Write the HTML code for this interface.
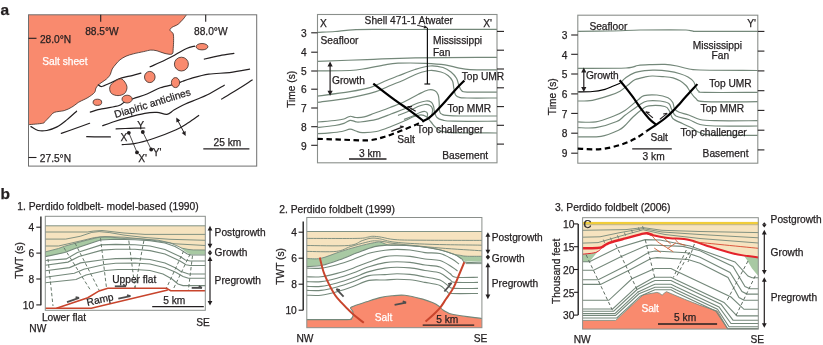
<!DOCTYPE html>
<html><head><meta charset="utf-8"><title>Perdido foldbelt figure</title>
<style>
html,body{margin:0;padding:0;background:#fff;}
svg{display:block;}
text{font-family:"Liberation Sans",Arial,Helvetica,sans-serif;font-size:10.2px;fill:#231f20;stroke:#231f20;stroke-width:0.25px;}
</style></head><body>
<svg width="823" height="345" viewBox="0 0 823 345">
<rect width="823" height="345" fill="#fff"/>
<text x="0.6" y="14.7" style="font-weight:bold;font-size:15.5px">a</text>
<path d="M186.5,14.8 C185.9,15.5 184.6,17.5 183.2,19.1 C181.8,20.7 180,22.8 178.2,24.2 C176.3,25.6 173.5,26.3 172.1,27.3 C170.7,28.3 169.8,29.2 170,30.3 C170.2,31.4 172.5,31.9 173.1,33.6 C173.7,35.3 173.6,38 173.6,40.5 C173.6,43 173.4,46.4 173.2,48.6 C172.9,50.9 173.5,53.2 172.1,54 C170.7,54.8 167.5,54 165,53.5 C162.5,53 159.4,51.4 157,50.8 C154.6,50.2 153,50 150.8,50.1 C148.6,50.2 146.6,51 143.7,51.6 C140.8,52.2 136.4,53 133.5,53.8 C130.6,54.6 128.2,55.2 126,56.2 C123.8,57.2 121.7,58.5 120,59.8 C118.3,61.1 117.3,62.5 116,64 C114.7,65.5 113.2,67.2 112.2,69 C111.2,70.8 111.2,72.8 110.3,74.5 C109.3,76.2 108.3,77.4 106.5,79 C104.7,80.6 101.2,82.5 99.5,84 C97.8,85.5 96.8,86.6 96,88 C95.2,89.4 95.8,90.9 94.5,92.5 C93.2,94.1 90.4,96 88,97.5 C85.6,99 81.8,100.5 80,101.5 C78.2,102.5 78.7,102.2 77.3,103.2 C75.9,104.2 73.7,106.1 71.5,107.3 C69.3,108.5 67.1,109.8 64.2,110.6 C61.3,111.4 56.7,111.4 54.3,112.4 C51.9,113.4 51.2,115.2 49.7,116.7 C48.2,118.2 46.2,120.4 45,121.5 C43.8,122.6 45.2,122.8 42.5,123.3 C39.8,123.8 30.8,124.5 28.5,124.7 L28.5,14.8 Z" fill="#f98a6e" stroke="none" stroke-width="1"/>
<path d="M186.5,14.8 C185.9,15.5 184.6,17.5 183.2,19.1 C181.8,20.7 180,22.8 178.2,24.2 C176.3,25.6 173.5,26.3 172.1,27.3 C170.7,28.3 169.8,29.2 170,30.3 C170.2,31.4 172.5,31.9 173.1,33.6 C173.7,35.3 173.6,38 173.6,40.5 C173.6,43 173.4,46.4 173.2,48.6 C172.9,50.9 173.5,53.2 172.1,54 C170.7,54.8 167.5,54 165,53.5 C162.5,53 159.4,51.4 157,50.8 C154.6,50.2 153,50 150.8,50.1 C148.6,50.2 146.6,51 143.7,51.6 C140.8,52.2 136.4,53 133.5,53.8 C130.6,54.6 128.2,55.2 126,56.2 C123.8,57.2 121.7,58.5 120,59.8 C118.3,61.1 117.3,62.5 116,64 C114.7,65.5 113.2,67.2 112.2,69 C111.2,70.8 111.2,72.8 110.3,74.5 C109.3,76.2 108.3,77.4 106.5,79 C104.7,80.6 101.2,82.5 99.5,84 C97.8,85.5 96.8,86.6 96,88 C95.2,89.4 95.8,90.9 94.5,92.5 C93.2,94.1 90.4,96 88,97.5 C85.6,99 81.8,100.5 80,101.5 C78.2,102.5 78.7,102.2 77.3,103.2 C75.9,104.2 73.7,106.1 71.5,107.3 C69.3,108.5 67.1,109.8 64.2,110.6 C61.3,111.4 56.7,111.4 54.3,112.4 C51.9,113.4 51.2,115.2 49.7,116.7 C48.2,118.2 46.2,120.4 45,121.5 C43.8,122.6 45.2,122.8 42.5,123.3 C39.8,123.8 30.8,124.5 28.5,124.7" fill="none" stroke="#3a2a25" stroke-width="0.8"/>
<path d="M30.9,126.6 C32.1,127.2 35.5,129.8 38.1,130.5 C40.8,131.2 43.6,131.1 46.8,130.5 C49.9,129.9 53.6,128.7 57,126.9 C60.4,125.1 63.8,122.2 67.1,119.6 C70.4,117 75,112.6 76.6,111.2" fill="none" stroke="#231f20" stroke-width="1.2" stroke-linecap="round"/>
<path d="M61.3,133.4 C63.7,132.6 71.1,130 75.8,128.3 C80.5,126.6 87.3,124.1 89.6,123.3" fill="none" stroke="#231f20" stroke-width="1.2" stroke-linecap="round"/>
<path d="M86.7,136.7 C88.6,136.7 94,136.8 98,136.8 C102,136.8 108.3,136.9 110.4,136.9" fill="none" stroke="#231f20" stroke-width="1.2" stroke-linecap="round"/>
<path d="M102.6,125.7 C104.2,125.1 108.1,123.6 112.2,122.2 C116.3,120.8 122,119.1 127.4,117.6 C132.8,116.1 139.9,114.2 144.8,113.3 C149.7,112.4 153.3,112.2 157,112.4 C160.7,112.6 164.1,114.7 167,114.3 C169.9,113.9 171.3,111.5 174.3,109.8 C177.3,108.1 181,106 184.8,104.3 C188.6,102.5 193.2,100.9 197,99.3 C200.8,97.7 202.8,97.1 207.4,94.8 C212,92.5 221.5,86.8 224.3,85.2" fill="none" stroke="#231f20" stroke-width="1.2" stroke-linecap="round"/>
<path d="M90.3,112.1 C91.6,111.7 95.5,110.3 98,109.7 C100.5,109.1 101.7,109 105.2,108.3 C108.7,107.6 115.9,106.5 119.1,105.5 C122.3,104.5 122,103.3 124.3,102.2 C126.6,101.1 129.2,100.1 133,98.7 C136.8,97.3 142.4,95.8 147,94 C151.6,92.2 155.6,89.5 160.3,87.8 C165.1,86.1 171.8,85.1 175.5,84 C179.2,82.9 180,82.2 182.6,81.3 C185.2,80.3 187,79.5 191.3,78.3 C195.7,77.1 202.3,75.2 208.7,74.2 C215.1,73.2 222.8,73.4 229.6,72.6 C236.4,71.8 246.3,69.8 249.6,69.2" fill="none" stroke="#231f20" stroke-width="1.2" stroke-linecap="round"/>
<path d="M116.1,128.9 C118.4,128.8 125.2,128.5 130,128.3 C134.8,128.2 142.3,128.1 144.8,128" fill="none" stroke="#231f20" stroke-width="1.2" stroke-linecap="round"/>
<path d="M122.2,144.6 C124.2,144.4 129.1,144.7 134.3,143.7 C139.5,142.7 146.5,140.8 153.5,138.5 C160.5,136.2 170.3,132.4 176.1,129.8 C181.9,127.2 184.5,125.2 188.3,122.8 C192.1,120.4 197,116.7 198.7,115.5" fill="none" stroke="#231f20" stroke-width="1.2" stroke-linecap="round"/>
<path d="M98.3,84.8 C98.9,85.1 99.7,86.8 101.7,86.5 C103.7,86.2 107.5,84.3 110.4,83 C113.3,81.7 115.9,79.9 119.1,78.7 C122.3,77.5 126,77 129.6,76.1 C133.2,75.2 139,73.6 140.9,73.1" fill="none" stroke="#231f20" stroke-width="1.2" stroke-linecap="round"/>
<path d="M150.1,66.8 C151.8,66 156.2,64.2 160.3,62.3 C164.4,60.4 170.1,57.5 174.5,55.2 C178.9,52.9 183.2,50 186.6,48.5 C190,47 193.3,46.5 194.7,46.1" fill="none" stroke="#231f20" stroke-width="1.2" stroke-linecap="round"/>
<path d="M204.3,59.1 C206.9,58.5 215.1,56.6 220,55.6 C224.9,54.6 231.6,53.8 233.9,53.4" fill="none" stroke="#231f20" stroke-width="1.2" stroke-linecap="round"/>
<path d="M221.7,99.1 C224.2,97.5 231.9,93 237,89.8 C242.1,86.6 249.7,81.6 252.2,80" fill="none" stroke="#231f20" stroke-width="1.2" stroke-linecap="round"/>
<path d="M120.3,78.8 C122.3,78.6 123.7,80.5 124.8,82 C125.9,83.5 127,85.6 127,87.5 C127,89.4 126,92.2 124.5,93.5 C123,94.8 120.2,95.6 118,95.6 C115.8,95.6 112.9,94.8 111.5,93.5 C110.1,92.2 109.5,89.8 109.7,88 C109.9,86.2 110.7,84.5 112.5,83 C114.3,81.5 118.2,79 120.3,78.8 Z" fill="#f98a6e" stroke="#3a2a25" stroke-width="0.8"/>
<ellipse cx="127.1" cy="99.1" rx="5.1" ry="3.9" fill="#f98a6e" stroke="#3a2a25" stroke-width="0.8"/>
<ellipse cx="97.4" cy="102.3" rx="4.3" ry="3.1" fill="#f98a6e" stroke="#3a2a25" stroke-width="0.8"/>
<ellipse cx="202" cy="46.7" rx="5.9" ry="3.2" fill="#f98a6e" stroke="#3a2a25" stroke-width="0.8"/>
<ellipse cx="181.4" cy="64.1" rx="7" ry="6.9" fill="#f98a6e" stroke="#3a2a25" stroke-width="0.8"/>
<ellipse cx="149.8" cy="77" rx="5.3" ry="5.6" fill="#f98a6e" stroke="#3a2a25" stroke-width="0.8"/>
<ellipse cx="175.5" cy="82.6" rx="4.1" ry="5" fill="#f98a6e" stroke="#3a2a25" stroke-width="0.8"/>
<line x1="177.4" y1="119.8" x2="184.6" y2="133.7" stroke="#231f20" stroke-width="1"/>
<path d="M185.7,135.9 L181.7,132.9 L185.6,130.9 Z" fill="#231f20"/>
<path d="M176.3,117.6 L180.3,120.6 L176.4,122.6 Z" fill="#231f20"/>
<line x1="128.8" y1="132.8" x2="137" y2="152.4" stroke="#231f20" stroke-width="0.8"/>
<line x1="142.8" y1="132" x2="151.2" y2="149.5" stroke="#231f20" stroke-width="0.8"/>
<circle cx="128.8" cy="132.8" r="1.9" fill="#231f20"/>
<circle cx="137" cy="152.4" r="1.9" fill="#231f20"/>
<circle cx="142.8" cy="132" r="1.9" fill="#231f20"/>
<circle cx="151.2" cy="149.5" r="1.9" fill="#231f20"/>
<text x="120.6" y="140.5">X</text>
<text x="138.2" y="161.5">X'</text>
<text x="137.3" y="128.7">Y</text>
<text x="152.8" y="156">Y'</text>
<rect x="28.5" y="14.8" width="228.2" height="151.3" fill="none" stroke="#6f6f6f" stroke-width="1"/>
<line x1="100.7" y1="14.8" x2="100.7" y2="21.8" stroke="#231f20" stroke-width="1.1"/>
<line x1="205.7" y1="14.8" x2="205.7" y2="21.8" stroke="#231f20" stroke-width="1.1"/>
<line x1="28.5" y1="38.3" x2="36.5" y2="38.3" stroke="#231f20" stroke-width="1.1"/>
<line x1="28.5" y1="157.5" x2="36.5" y2="157.5" stroke="#231f20" stroke-width="1.1"/>
<text x="85.2" y="35.3">88.5°W</text>
<text x="194" y="35.3">88.0°W</text>
<text x="39.9" y="43.4">28.0°N</text>
<text x="39.8" y="161.7">27.5°N</text>
<text x="42.3" y="64.9" style="fill:#ffffff;stroke:#ffffff">Salt sheet</text>
<text x="213.5" y="146.4">25 km</text>
<line x1="203.3" y1="148.8" x2="249.4" y2="148.8" stroke="#231f20" stroke-width="1.3"/>
<text x="115.6" y="118.1" transform="rotate(-17 115.6 118.1)">Diapiric anticlines</text>
<path d="M317.5,32.4 C320.4,32.2 328.6,32 335,31.5 C341.4,31 345.2,29.9 356,29.6 C366.8,29.3 376.5,29.5 400,29.5 C423.5,29.5 480.8,29.4 497,29.4" fill="none" stroke="#74887a" stroke-width="1.2"/>
<path d="M317.5,61.3 C325.8,61 350.8,60.2 367,59.6 C383.2,59 393.3,58.2 415,57.8 C436.7,57.4 483.3,57.4 497,57.3" fill="none" stroke="#74887a" stroke-width="1.2"/>
<path d="M317.5,70.9 C322.9,70.8 341.8,70.9 350,70.5 C358.2,70.1 361.2,69.2 367,68.3 C372.8,67.3 379.8,65.6 385,64.8 C390.2,63.9 391.3,63.5 398,63.2 C404.7,63 417.2,63 425,63.3 C432.8,63.6 439.5,64 445,64.8 C450.5,65.5 453.8,67 458,67.8 C462.2,68.6 463.5,69.3 470,69.6 C476.5,69.9 492.5,69.8 497,69.8" fill="none" stroke="#74887a" stroke-width="1.2"/>
<path d="M317.5,96.1 C322.9,95.4 341.1,93.2 350,91.7 C358.9,90.2 364.9,89.1 370.7,87.4 C376.5,85.7 380,83.2 384.6,81.3 C389.2,79.4 393.4,77.8 398.5,75.8 C403.6,73.8 409.8,71.1 415,69.5 C420.2,67.9 425.3,66.3 430,66 C434.7,65.7 439.5,66.5 443,67.5 C446.5,68.5 448.8,70.2 451,72 C453.2,73.8 455.2,76 456.5,78.2 C457.8,80.4 458,83 458.8,85.1 C459.6,87.1 460.1,89.3 461.5,90.5 C462.9,91.7 461.2,91.8 467.1,92.1 C473,92.4 492,92.1 497,92.1" fill="none" stroke="#74887a" stroke-width="1.2"/>
<path d="M317.5,102.4 C322.9,101.6 340.1,99.6 349.8,97.8 C359.5,96 369.5,93.6 375.9,91.7 C382.3,89.8 383.1,88.5 388,86.5 C392.9,84.5 400,81.7 405,79.5 C410,77.3 413.8,75 418,73.5 C422.2,72 426.2,70.8 430,70.5 C433.8,70.2 438,71.2 441,72 C444,72.8 446.1,74 448,75.5 C449.9,77 451.5,78.9 452.5,81 C453.5,83.1 453.3,85.7 453.8,88 C454.3,90.3 454.5,93.4 455.5,95 C456.5,96.6 458.1,97.1 460,97.6 C461.9,98.1 460.8,97.9 467,98 C473.2,98.1 492,98 497,98" fill="none" stroke="#74887a" stroke-width="1.2"/>
<path d="M317.5,122 C320.4,121.8 330.6,121 335,120.5 C339.4,120 341.4,119.7 343.9,119 C346.4,118.3 348,116.5 350,116.3 C352,116 353.6,117.4 356,117.5 C358.4,117.6 361.1,117.6 364.2,116.9 C367.2,116.2 370,114.9 374.3,113.3 C378.6,111.7 384.9,109.5 390,107.5 C395.1,105.5 400.1,103.7 404.8,101.5 C409.5,99.3 414.1,96.4 418,94.5 C421.9,92.6 425.2,90.7 428,90 C430.8,89.3 432.8,89.7 434.5,90.5 C436.2,91.3 437.4,92.9 438.2,95 C439,97.1 439,100.4 439.2,103 C439.4,105.6 439,108.7 439.5,110.6 C440,112.5 439.7,113.4 442,114.3 C444.3,115.2 444,115.5 453.2,115.8 C462.4,116.1 489.7,116 497,116" fill="none" stroke="#74887a" stroke-width="1.2"/>
<path d="M317.5,127.5 C320.4,127.2 330.6,126.2 335,125.5 C339.4,124.8 341.4,124.2 343.9,123.4 C346.4,122.6 348,120.7 350,120.4 C352,120.1 354.3,121.5 356,121.8 C357.7,122.1 356.7,122.4 360.1,122 C363.5,121.6 371.2,120.7 376.4,119.4 C381.5,118.1 386.3,115.8 391,114 C395.7,112.2 400.3,110.6 404.8,108.8 C409.3,107 414.5,104.3 418,103 C421.5,101.7 423.8,101.2 426,101 C428.2,100.8 429.8,101.2 431,102 C432.2,102.8 432.9,104.3 433.5,106 C434.1,107.7 433.9,110.1 434.5,112 C435.1,113.9 435.6,116.1 437,117.5 C438.4,118.9 440.3,119.6 443,120.2 C445.7,120.8 444.2,121 453.2,121.2 C462.2,121.4 489.7,121.2 497,121.2" fill="none" stroke="#74887a" stroke-width="1.2"/>
<path d="M317.5,133.6 C319.6,133.5 325.9,133.2 330,132.8 C334.1,132.5 338.6,132.1 341.9,131.5 C345.2,130.9 347.6,129.2 350,129.1 C352.4,129 354,130.4 356,131 C358,131.6 358.8,132.5 362.2,132.6 C365.6,132.7 371.6,132.5 376.4,131.5 C381.2,130.5 386.3,128.3 391,126.5 C395.7,124.7 401,122.5 404.8,120.8 C408.6,119.1 411.3,117.5 414,116.5 C416.7,115.5 418.9,114.8 421,114.8 C423.1,114.8 424.8,115.6 426.5,116.8 C428.2,118 429.2,120 431,122 C432.8,124 434.2,126.8 437,128.5 C439.8,130.2 438,131.6 448,132.3 C458,133.1 488.8,132.9 497,133" fill="none" stroke="#74887a" stroke-width="1.2"/>
<path d="M398,115.5 C399.7,114.8 404.7,113 408,111.5 C411.3,110 415.2,107.7 418,106.5 C420.8,105.3 423,104.7 425,104.5 C427,104.3 428.8,104.8 430,105.5 C431.2,106.2 432.2,107.6 432.5,109 C432.8,110.4 432.6,112.3 432,114 C431.4,115.7 429.5,118.2 429,119" fill="none" stroke="#74887a" stroke-width="1.2"/>
<path d="M404,119.5 C405.5,118.9 410.3,117.2 413,116 C415.7,114.8 418,113.2 420,112.5 C422,111.8 423.8,111.3 425,111.5 C426.2,111.7 427.2,112.5 427.5,113.5 C427.8,114.5 427.1,116.8 427,117.5" fill="none" stroke="#74887a" stroke-width="1.2"/>
<rect x="317.5" y="14.5" width="179.5" height="148.3" fill="none" stroke="#8a8f8b" stroke-width="1.1"/>
<line x1="311.2" y1="32.8" x2="317.5" y2="32.8" stroke="#231f20" stroke-width="1.1"/>
<text x="306.6" y="37" style="text-anchor:end">3</text>
<line x1="311.2" y1="52.2" x2="317.5" y2="52.2" stroke="#231f20" stroke-width="1.1"/>
<text x="306.6" y="56.4" style="text-anchor:end">4</text>
<line x1="311.2" y1="71" x2="317.5" y2="71" stroke="#231f20" stroke-width="1.1"/>
<text x="306.6" y="75.2" style="text-anchor:end">5</text>
<line x1="311.2" y1="89.2" x2="317.5" y2="89.2" stroke="#231f20" stroke-width="1.1"/>
<text x="306.6" y="93.4" style="text-anchor:end">6</text>
<line x1="311.2" y1="108" x2="317.5" y2="108" stroke="#231f20" stroke-width="1.1"/>
<text x="306.6" y="112.2" style="text-anchor:end">7</text>
<line x1="311.2" y1="126.7" x2="317.5" y2="126.7" stroke="#231f20" stroke-width="1.1"/>
<text x="306.6" y="130.9" style="text-anchor:end">8</text>
<line x1="311.2" y1="145.3" x2="317.5" y2="145.3" stroke="#231f20" stroke-width="1.1"/>
<text x="306.6" y="149.5" style="text-anchor:end">9</text>
<line x1="497" y1="31.4" x2="504" y2="31.4" stroke="#231f20" stroke-width="1.1"/>
<line x1="497" y1="50.2" x2="504" y2="50.2" stroke="#231f20" stroke-width="1.1"/>
<line x1="497" y1="69" x2="504" y2="69" stroke="#231f20" stroke-width="1.1"/>
<line x1="497" y1="87.8" x2="504" y2="87.8" stroke="#231f20" stroke-width="1.1"/>
<line x1="497" y1="106.6" x2="504" y2="106.6" stroke="#231f20" stroke-width="1.1"/>
<line x1="497" y1="125.3" x2="504" y2="125.3" stroke="#231f20" stroke-width="1.1"/>
<line x1="497" y1="144.1" x2="504" y2="144.1" stroke="#231f20" stroke-width="1.1"/>
<text x="291.2" y="89.3" style="text-anchor:middle" transform="rotate(-90 291.2 89.3)" dy="3.6">Time (s)</text>
<path d="M373.3,83.6 C376.9,86.4 389.1,95.8 395,100.2 C400.9,104.6 404.1,106.3 408.9,109.8 C413.6,113.3 421.1,119.1 423.5,121 L423.5,121 C424.4,120.5 427.1,119.2 429,117.8 C430.9,116.4 432,115.6 435,112.5 C438,109.4 443.4,103.4 447.2,99.2 C451,95 454.8,90.3 457.7,87.2 C460.6,84.1 463.2,81.7 464.3,80.6" fill="none" stroke="#000" stroke-width="2.2"/>
<path d="M317.5,138.8 C321.2,138.9 331.6,139.3 340,139.6 C348.4,139.8 360.9,140.7 368,140.3 C375.1,139.9 377.7,138.8 382.6,137.4 C387.5,136.1 392.3,134.1 397.4,132.2 C402.5,130.3 409.5,127.4 413,125.9 C416.5,124.5 416.8,124.3 418.5,123.5 C420.2,122.7 422.7,121.4 423.5,121" fill="none" stroke="#000" stroke-width="2.2" stroke-dasharray="5.5,3.5"/>
<line x1="427.4" y1="28" x2="427.4" y2="84" stroke="#111" stroke-width="1.2"/>
<line x1="424.4" y1="84" x2="430.2" y2="84" stroke="#111" stroke-width="1.2"/>
<line x1="417" y1="25.2" x2="424.5" y2="27" stroke="#231f20" stroke-width="0.9"/>
<path d="M427.8,27.8 L423.7,28.5 L424.5,25.2 Z" fill="#231f20"/>
<line x1="330.1" y1="65.6" x2="330.1" y2="91.8" stroke="#231f20" stroke-width="1.2"/>
<path d="M330.1,61.6 L332.7,66.6 L327.5,66.6 Z" fill="#231f20"/>
<path d="M330.1,95.8 L327.5,90.8 L332.7,90.8 Z" fill="#231f20"/>
<line x1="415.7" y1="111.2" x2="407.6" y2="106.6" stroke="#231f20" stroke-width="1.2"/>
<line x1="407.6" y1="106.6" x2="412.1" y2="106.6" stroke="#231f20" stroke-width="1.2"/>
<line x1="391.3" y1="131.4" x2="403.5" y2="126.6" stroke="#231f20" stroke-width="1.2"/>
<line x1="403.5" y1="126.6" x2="399.9" y2="126.1" stroke="#231f20" stroke-width="1.2"/>
<line x1="349" y1="159" x2="386.5" y2="159" stroke="#231f20" stroke-width="1.3"/>
<text x="319.9" y="27.2">X</text>
<text x="364.6" y="24.3">Shell 471-1 Atwater</text>
<text x="483.2" y="27.2">X'</text>
<text x="320.5" y="43.7">Seafloor</text>
<text x="432.9" y="43.7">Mississippi</text>
<text x="432.9" y="55.9">Fan</text>
<text x="332" y="83.9">Growth</text>
<text x="461.7" y="80.1">Top UMR</text>
<text x="447.5" y="111.7">Top MMR</text>
<text x="416.8" y="132.5">Top challenger</text>
<text x="397.2" y="143.2">Salt</text>
<text x="442.3" y="158.5">Basement</text>
<text x="359" y="156.8">3 km</text>
<path d="M577.8,31.4 C583.2,31.3 599.6,31.2 610,31 C620.4,30.8 630,30.2 640,30 C650,29.8 662.3,29.8 670,29.8 C677.7,29.8 682.2,29.8 686,30 C689.8,30.2 690.7,30.9 693,31.1 C695.3,31.3 689.2,31.3 700,31.4 C710.8,31.4 748.2,31.4 757.8,31.4" fill="none" stroke="#74887a" stroke-width="1.2"/>
<path d="M577.8,68.4 C585.8,68.3 616,68.5 626,68 C636,67.5 633.7,66.1 638,65.5 C642.3,64.9 647.5,64.8 652,64.6 C656.5,64.4 660.8,64.2 665,64.4 C669.2,64.6 673.3,65.3 677,66 C680.7,66.7 683.2,67.8 687,68.5 C690.8,69.2 688.2,69.7 700,70 C711.8,70.3 748.2,70.4 757.8,70.5" fill="none" stroke="#74887a" stroke-width="1.2"/>
<path d="M620,83.3 C621,82.3 623.5,79.3 626,77.5 C628.5,75.7 631.6,73.8 634.8,72.6 C638,71.4 641.6,71 645,70.6 C648.4,70.2 651.2,70.1 655,70.2 C658.8,70.3 663.8,70.6 668,71.2 C672.2,71.8 676.7,72.8 680,73.8 C683.3,74.8 685.8,75.7 688,77 C690.2,78.3 692.2,79.8 693.5,81.5 C694.8,83.2 695.1,85.8 696,87.5 C696.9,89.2 697.5,90.7 699,91.5 C700.5,92.3 695.2,92.2 705,92.4 C714.8,92.6 749,92.4 757.8,92.4" fill="none" stroke="#74887a" stroke-width="1.2"/>
<path d="M577.8,101 C580.2,100.9 587.1,101.2 592.4,100.3 C597.7,99.4 605.2,96.9 609.8,95.4 C614.4,93.9 617,92.9 620,91.2 C623,89.5 625.5,86.9 628,85 C630.5,83.1 632,81.1 634.8,79.8 C637.6,78.5 642.1,77.6 645,77 C647.9,76.4 649.2,76.1 652.2,76 C655.2,75.9 659.5,76.3 663,76.6 C666.5,76.9 670.2,77.1 673,77.8 C675.8,78.5 677.8,79.5 680,80.8 C682.2,82.1 684.3,83.8 686,85.5 C687.7,87.2 688.4,89.2 690,91.3 C691.6,93.4 693.1,96.5 695.6,98.2 C698.1,99.9 694.5,101.1 704.9,101.7 C715.3,102.3 749,101.7 757.8,101.7" fill="none" stroke="#74887a" stroke-width="1.2"/>
<path d="M577.8,121.9 C580.8,121.9 590,122.8 595.9,121.9 C601.8,121 608.4,118.2 613.3,116.3 C618.1,114.4 620.9,113.2 625,110.5 C629.1,107.8 634.5,102.6 637.7,100.1 C640.9,97.6 640.9,96.4 644.1,95.6 C647.3,94.8 652.9,94.7 656.9,95 C660.9,95.3 665.4,96.5 668,97.7 C670.6,99 671.7,100.6 672.8,102.5 C673.9,104.4 673.5,107.3 674.6,108.9 C675.7,110.5 676.9,111.3 679.2,112.3 C681.6,113.3 685.2,113.8 688.7,115 C692.2,116.2 695.6,118.5 700,119.5 C704.4,120.5 705.4,120.5 715,120.7 C724.6,120.9 750.7,120.7 757.8,120.7" fill="none" stroke="#74887a" stroke-width="1.2"/>
<path d="M577.8,127.6 C580.8,127.6 589.4,128.6 595.9,127.6 C602.4,126.6 611.9,123.5 616.7,121.5 C621.6,119.5 621.2,118.1 625,115.3 C628.8,112.5 635.6,107.3 639.3,104.9 C643,102.5 643.8,101.7 647.3,101 C650.8,100.3 656.5,100.6 660.1,101 C663.7,101.4 666.9,102.2 668.8,103.5 C670.7,104.8 670.3,106.9 671.5,109 C672.7,111.1 673.1,114.3 676,116.1 C678.9,117.8 684.7,118.1 688.7,119.5 C692.7,120.9 695.6,123.4 700,124.5 C704.4,125.6 705.4,125.8 715,126 C724.6,126.2 750.7,126 757.8,126" fill="none" stroke="#74887a" stroke-width="1.2"/>
<path d="M577.8,136.8 C581.7,136.7 594.3,137.4 601.1,136.3 C607.9,135.2 614.5,132 618.5,130.2 C622.5,128.4 622.6,127.7 625,125.5 C627.4,123.3 630.1,119.8 633,117 C635.9,114.2 639.9,110.9 642.5,109 C645.1,107.1 645.2,106.2 648.9,105.8 C652.6,105.4 661.3,105.6 664.8,106.5 C668.2,107.4 668.3,109.3 669.6,111.3 C670.9,113.3 670.7,116.5 672.8,118.5 C674.9,120.5 679.2,121.9 682.4,123.5 C685.6,125.1 689.1,126.5 692,128 C694.9,129.6 696.2,131.6 700,132.8 C703.8,134 705.4,134.9 715,135.3 C724.6,135.7 750.7,135.3 757.8,135.3" fill="none" stroke="#74887a" stroke-width="1.2"/>
<path d="M577.8,91.8 C580.2,91.8 587.9,91.9 592.4,91.5 C596.9,91.1 601.7,90.1 605,89.3 C608.3,88.5 609.5,87.5 612,86.5 C614.5,85.5 618.7,83.8 620,83.3" fill="none" stroke="#000" stroke-width="1.2"/>
<rect x="577.8" y="15.2" width="180" height="148" fill="none" stroke="#8a8f8b" stroke-width="1.1"/>
<line x1="571.2" y1="35" x2="577.8" y2="35" stroke="#231f20" stroke-width="1.1"/>
<text x="567.4" y="39.2" style="text-anchor:end">3</text>
<line x1="571.2" y1="54.3" x2="577.8" y2="54.3" stroke="#231f20" stroke-width="1.1"/>
<text x="567.4" y="58.5" style="text-anchor:end">4</text>
<line x1="571.2" y1="74" x2="577.8" y2="74" stroke="#231f20" stroke-width="1.1"/>
<text x="567.4" y="78.2" style="text-anchor:end">5</text>
<line x1="571.2" y1="93.9" x2="577.8" y2="93.9" stroke="#231f20" stroke-width="1.1"/>
<text x="567.4" y="98.1" style="text-anchor:end">6</text>
<line x1="571.2" y1="113.4" x2="577.8" y2="113.4" stroke="#231f20" stroke-width="1.1"/>
<text x="567.4" y="117.6" style="text-anchor:end">7</text>
<line x1="571.2" y1="133.2" x2="577.8" y2="133.2" stroke="#231f20" stroke-width="1.1"/>
<text x="567.4" y="137.4" style="text-anchor:end">8</text>
<line x1="571.2" y1="153.2" x2="577.8" y2="153.2" stroke="#231f20" stroke-width="1.1"/>
<text x="567.4" y="157.4" style="text-anchor:end">9</text>
<line x1="757.8" y1="31.4" x2="764.4" y2="31.4" stroke="#231f20" stroke-width="1.1"/>
<line x1="757.8" y1="51.1" x2="764.4" y2="51.1" stroke="#231f20" stroke-width="1.1"/>
<line x1="757.8" y1="70.9" x2="764.4" y2="70.9" stroke="#231f20" stroke-width="1.1"/>
<line x1="757.8" y1="90.7" x2="764.4" y2="90.7" stroke="#231f20" stroke-width="1.1"/>
<line x1="757.8" y1="110.4" x2="764.4" y2="110.4" stroke="#231f20" stroke-width="1.1"/>
<line x1="757.8" y1="130.2" x2="764.4" y2="130.2" stroke="#231f20" stroke-width="1.1"/>
<line x1="757.8" y1="149.9" x2="764.4" y2="149.9" stroke="#231f20" stroke-width="1.1"/>
<text x="552.3" y="96.7" style="text-anchor:middle" transform="rotate(-90 552.3 96.7)" dy="3.6">Time (s)</text>
<path d="M619.6,80.2 C620.8,81.6 624.3,85.8 626.5,88.6 C628.7,91.4 630.6,93.9 633,97.2 C635.4,100.5 638.2,105.1 640.9,108.6 C643.5,112.1 646.4,115.7 648.9,118.4 C651.4,121.1 654.9,123.7 656.1,124.7 L656.1,124.7 C657.5,123.7 662,120.8 664.8,118.5 C667.6,116.2 670.1,113.8 672.8,111.1 C675.5,108.4 678.1,105.3 680.8,102.4 C683.4,99.5 685.9,96.6 688.7,93.6 C691.5,90.5 696,85.7 697.4,84.1" fill="none" stroke="#000" stroke-width="2.2"/>
<path d="M577.8,148.7 C581.6,148.8 593.6,149.8 600.8,149.1 C608,148.4 615.2,146.4 621,144.7 C626.8,142.9 631,140.8 635.3,138.6 C639.5,136.3 644.6,132.4 646.5,131.2" fill="none" stroke="#000" stroke-width="2.2" stroke-dasharray="5.5,3.5"/>
<line x1="646.5" y1="131.2" x2="656.1" y2="124.9" stroke="#000" stroke-width="2.2"/>
<line x1="583.8" y1="71.4" x2="583.8" y2="88" stroke="#231f20" stroke-width="1.2"/>
<path d="M583.8,67.4 L586.4,72.4 L581.2,72.4 Z" fill="#231f20"/>
<path d="M583.8,92 L581.2,87 L586.4,87 Z" fill="#231f20"/>
<line x1="652.9" y1="117.9" x2="645.7" y2="111.9" stroke="#231f20" stroke-width="1.2"/>
<line x1="645.7" y1="111.9" x2="649.6" y2="112.6" stroke="#231f20" stroke-width="1.2"/>
<line x1="659.8" y1="119.4" x2="667.2" y2="113.4" stroke="#231f20" stroke-width="1.2"/>
<line x1="667.2" y1="113.4" x2="663.2" y2="114" stroke="#231f20" stroke-width="1.2"/>
<line x1="632.2" y1="148.8" x2="671.8" y2="148.8" stroke="#231f20" stroke-width="1.3"/>
<text x="589.4" y="30.3">Seafloor</text>
<text x="747.2" y="27.4">Y'</text>
<text x="692.7" y="48.5">Mississippi</text>
<text x="711.6" y="59.3">Fan</text>
<text x="585.9" y="78.7">Growth</text>
<text x="709.2" y="87.2">Top UMR</text>
<text x="700.6" y="111.5">Top MMR</text>
<text x="680.5" y="136.1">Top challenger</text>
<text x="650.4" y="140.8">Salt</text>
<text x="642.6" y="159.5">3 km</text>
<text x="702.6" y="157.2">Basement</text>
<text x="0.6" y="199.1" style="font-weight:bold;font-size:15.5px">b</text>
<text x="17.3" y="209.9" style="font-size:10.3px">1. Perdido foldbelt- model-based (1990)</text>
<path d="M45.3,225.8 L205.3,225.8 L205.3,250 L193.2,249.9 L188,249.4 L182,248.2 L178,246.3 L170,242.8 L158,240.2 L140,238.9 L125,238.6 L110,237 L100,237 L87.5,240 L75.7,243.1 L64.7,246.2 L58.5,248.5 L45.3,251.9 Z" fill="#f6e3bf" stroke="none" stroke-width="1"/>
<path d="M45.3,251.9 L58.5,248.5 L64.7,246.2 L75.7,243.1 L87.5,240 L100,237 L110,237 L122,238.3 L127,239.3 L127,239.4 L118,239.3 L107,239.4 L100.5,240 L75.8,248.2 L64.7,252.5 L58,254.2 L45.3,256.6 Z" fill="#a8c9a3" stroke="none" stroke-width="1"/>
<path d="M180.5,248 L188,249.4 L193.2,249.9 L205.3,250 L205.3,254.6 L190.6,254.6 L186.7,252.6 Z" fill="#a8c9a3" stroke="none" stroke-width="1"/>
<path d="M45.3,225.8 L205.3,225.8" fill="none" stroke="#74887a" stroke-width="0.9"/>
<path d="M45.3,232 L87.5,232 L93.3,231.1 L102,230.5 L124,233 L145,234.4 L205.3,234.4" fill="none" stroke="#74887a" stroke-width="0.9"/>
<path d="M45.3,239.1 L65.7,239.1 L80.2,236.3 L91.8,232.4 L99.1,231.6 L109.2,232.5 L124,235.1 L145,237.5 L170,239.3 L205.3,240.3" fill="none" stroke="#74887a" stroke-width="0.9"/>
<path d="M45.3,246 L58.5,246 L80.2,241 L94.7,237.5 L105,236.6 L124,237.2 L150,239.8 L175,243.8 L205.3,245.5" fill="none" stroke="#74887a" stroke-width="0.9"/>
<path d="M45.3,251.9 L58.5,248.5 L64.7,246.2 L75.7,243.1 L87.5,240 L100,237 L110,237 L125,238.6 L140,238.9 L158,240.2 L170,242.8 L178,246.3 L182,248.2 L188,249.4 L193.2,249.9 L205.3,250" fill="none" stroke="#74887a" stroke-width="0.9"/>
<path d="M45.3,256.6 L64.7,252.5 L75.8,248.2 L100.5,240 L115,239.3 L135,239.8 L150,240.6 L165,243 L175,246.5 L180.5,249.6 L186.9,253.8 L190.1,255 L205.3,255" fill="none" stroke="#74887a" stroke-width="1.1"/>
<path d="M45.3,260.5 L66.3,258.9 L77.4,252.5 L101.3,244.9 L115.7,244.4 L135,244.8 L150,246 L165,249.5 L180.5,256.8 L185.3,260 L190.1,261 L205.3,261" fill="none" stroke="#74887a" stroke-width="1.1"/>
<path d="M45.3,265.3 L67.9,262.1 L79,256.5 L102.1,250.1 L115.7,249.2 L135,249.3 L150,250.6 L165,254 L180,261 L186,264.8 L190,265.5 L205.3,265.5" fill="none" stroke="#74887a" stroke-width="1.1"/>
<path d="M45.3,270.8 L69.5,267.6 L80.6,262.9 L102.9,259.7 L115.7,258.6 L135,258.4 L150,259.5 L165,263 L175.7,268 L180.5,271.2 L188.5,274 L205.3,274" fill="none" stroke="#74887a" stroke-width="1.1"/>
<path d="M45.3,277.2 L74.3,273.2 L83.8,269.2 L104.5,264.5 L115.7,263.3 L135,263 L150,264 L165,267.8 L175.7,272.3 L183,276.5 L188.5,278.3 L205.3,278.3" fill="none" stroke="#74887a" stroke-width="1.1"/>
<path d="M45.3,282.8 L76,279.5 L86,275 L105.5,270.5 L118,269.5 L135,269.5 L150,270.5 L163,274 L172,279 L178,284 L183,285.6 L205.3,285.6" fill="none" stroke="#74887a" stroke-width="1.1"/>
<line x1="48" y1="258.9" x2="53" y2="306" stroke="#66786a" stroke-width="1" stroke-dasharray="3.4,2.3"/>
<line x1="63.9" y1="247.7" x2="91" y2="291" stroke="#66786a" stroke-width="1" stroke-dasharray="3.4,2.3"/>
<line x1="75" y1="243" x2="99" y2="290" stroke="#66786a" stroke-width="1" stroke-dasharray="3.4,2.3"/>
<line x1="100.5" y1="238.2" x2="106.5" y2="288" stroke="#66786a" stroke-width="1" stroke-dasharray="3.4,2.3"/>
<line x1="128.8" y1="240.6" x2="135" y2="288" stroke="#66786a" stroke-width="1" stroke-dasharray="3.4,2.3"/>
<line x1="143.9" y1="240.6" x2="135" y2="288" stroke="#66786a" stroke-width="1" stroke-dasharray="3.4,2.3"/>
<line x1="183.7" y1="250.9" x2="166.4" y2="288.2" stroke="#66786a" stroke-width="1" stroke-dasharray="3.4,2.3"/>
<line x1="190.1" y1="254.1" x2="172.5" y2="290.8" stroke="#66786a" stroke-width="1" stroke-dasharray="3.4,2.3"/>
<line x1="192.5" y1="255.7" x2="188.3" y2="290.8" stroke="#66786a" stroke-width="1" stroke-dasharray="3.4,2.3"/>
<path d="M45.3,308.3 L91.3,308.3 L167.8,290" fill="none" stroke="#c8442c" stroke-width="1.6"/>
<path d="M56.5,308.3 L87.8,297.8 L99.1,290.9 L107.8,288.3 L166.4,288.3 L170.7,290.8 L205.3,290.8" fill="none" stroke="#c8442c" stroke-width="1.6"/>
<line x1="67" y1="302.2" x2="79.1" y2="297.9" stroke="#4d4d4d" stroke-width="1.8"/>
<line x1="79.1" y1="297.9" x2="75.6" y2="297.2" stroke="#4d4d4d" stroke-width="1.8"/>
<line x1="118.3" y1="298.7" x2="130.4" y2="296.1" stroke="#4d4d4d" stroke-width="1.8"/>
<line x1="130.4" y1="296.1" x2="127" y2="295" stroke="#4d4d4d" stroke-width="1.8"/>
<line x1="114.8" y1="286.3" x2="126.1" y2="286.3" stroke="#4d4d4d" stroke-width="1.8"/>
<line x1="126.1" y1="286.3" x2="123" y2="284.5" stroke="#4d4d4d" stroke-width="1.8"/>
<line x1="191.7" y1="287.9" x2="201.9" y2="287.9" stroke="#4d4d4d" stroke-width="1.8"/>
<line x1="201.9" y1="287.9" x2="198.8" y2="286.1" stroke="#4d4d4d" stroke-width="1.8"/>
<rect x="45.3" y="216.3" width="160" height="94" fill="none" stroke="#8a8f8b" stroke-width="1"/>
<line x1="40.9" y1="216.4" x2="40.9" y2="305.2" stroke="#111" stroke-width="1.3"/>
<line x1="36.3" y1="227.2" x2="40.9" y2="227.2" stroke="#231f20" stroke-width="1.1"/>
<text x="34.2" y="231.4" style="text-anchor:end">4</text>
<line x1="36.3" y1="253.1" x2="40.9" y2="253.1" stroke="#231f20" stroke-width="1.1"/>
<text x="34.2" y="257.3" style="text-anchor:end">6</text>
<line x1="36.3" y1="279" x2="40.9" y2="279" stroke="#231f20" stroke-width="1.1"/>
<text x="34.2" y="283.2" style="text-anchor:end">8</text>
<line x1="36.3" y1="304.9" x2="40.9" y2="304.9" stroke="#231f20" stroke-width="1.1"/>
<text x="34.2" y="309.1" style="text-anchor:end">10</text>
<text x="19" y="260.5" style="text-anchor:middle" transform="rotate(-90 19 260.5)" dy="3.6">TWT (s)</text>
<line x1="210" y1="229.5" x2="210" y2="244.7" stroke="#231f20" stroke-width="1.2"/>
<path d="M210,225.8 L212.4,230.4 L207.6,230.4 Z" fill="#231f20"/>
<path d="M210,248.4 L207.6,243.8 L212.4,243.8 Z" fill="#231f20"/>
<path d="M210,250 L212.2,252.7 L207.8,252.7 Z" fill="#231f20"/>
<path d="M210,255.4 L207.8,252.7 L212.2,252.7 Z" fill="#231f20"/>
<line x1="210" y1="260" x2="210" y2="301.8" stroke="#231f20" stroke-width="1.2"/>
<path d="M210,256.3 L212.4,260.9 L207.6,260.9 Z" fill="#231f20"/>
<path d="M210,305.5 L207.6,300.9 L212.4,300.9 Z" fill="#231f20"/>
<text x="214.6" y="235.5">Postgrowth</text>
<text x="214.6" y="256.4">Growth</text>
<text x="214.6" y="284.2">Pregrowth</text>
<text x="112.2" y="283.2">Upper flat</text>
<text x="87.5" y="306" transform="rotate(-13 87.5 306)">Ramp</text>
<text x="41.9" y="320.7">Lower flat</text>
<text x="29.3" y="331.8">NW</text>
<text x="196.2" y="325.7">SE</text>
<text x="163.2" y="304.3">5 km</text>
<line x1="152.2" y1="306.6" x2="203.8" y2="306.6" stroke="#231f20" stroke-width="1.3"/>
<text x="279.3" y="212.9" style="font-size:10.3px">2. Perdido foldbelt (1999)</text>
<path d="M306.8,231.5 L481.9,231.5 L481.9,256.3 L466,256.2 L459.5,255.2 L453.9,254.3 L439.6,249.8 L420,246.5 L400,245.2 L388,244.8 L381,242.3 L374.5,242.6 L357.1,246.7 L339.7,251.9 L320.6,258.4 L306.8,258.4 Z" fill="#f6e3bf" stroke="none" stroke-width="1"/>
<path d="M306.8,258.4 L320.6,258.4 L339.7,251.9 L357.1,246.7 L374.5,242.6 L381,242.3 L388,244.8 L400,245.2 L420,246.5 L439.6,249.8 L453.9,254.3 L459.5,255.2 L466,256.2 L481.9,256.3 L481.9,261.5 L465.6,261.5 L461.7,258.9 L453.9,254.3 L439.6,249.8 L420,246.5 L400,245.2 L387,245.3 L374.5,246.6 L357.1,252.8 L339.7,259.7 L322.4,265.3 L306.8,266.6 Z" fill="#a8c9a3" stroke="none" stroke-width="1"/>
<path d="M306.8,231.5 L481.9,231.5" fill="none" stroke="#74887a" stroke-width="0.9"/>
<path d="M306.8,238.4 C315.2,238.4 347,238.6 357.1,238.4 C367.2,238.2 364.9,237.5 367.5,237.2 C370.1,236.8 370.5,236.3 372.8,236.3 C375.1,236.3 377.7,236.6 381.4,237.2 C385.1,237.8 388.6,239.1 395,239.6 C401.4,240.1 405.5,240.1 420,240.2 C434.5,240.3 471.6,240.4 481.9,240.4" fill="none" stroke="#74887a" stroke-width="0.9"/>
<path d="M306.8,245.5 C313.7,245.5 339.1,246.3 348.4,245.5 C357.6,244.7 358.5,241.8 362.3,240.6 C366.1,239.4 368.1,238.5 371,238.2 C373.9,237.9 375.7,238.1 379.7,238.8 C383.7,239.5 386.6,241.3 395,242.2 C403.4,243.1 415.5,243.8 430,244.3 C444.5,244.8 473.2,245 481.9,245.2" fill="none" stroke="#74887a" stroke-width="0.9"/>
<path d="M306.8,251.4 C311.7,251.4 329.1,252.2 336.3,251.4 C343.5,250.6 345.3,248.2 350.2,246.7 C355.1,245.2 361.8,243.4 365.8,242.4 C369.9,241.4 371.3,240.9 374.5,240.8 C377.7,240.7 381.6,241.3 385,241.8 C388.4,242.3 385.8,242.6 395,243.6 C404.2,244.6 425.5,246.8 440,248 C454.5,249.2 474.9,250.3 481.9,250.8" fill="none" stroke="#74887a" stroke-width="0.9"/>
<path d="M306.8,258.4 C309.1,258.4 315.1,259.5 320.6,258.4 C326.1,257.3 333.6,253.8 339.7,251.9 C345.8,250 351.3,248.2 357.1,246.7 C362.9,245.1 370.5,243.3 374.5,242.6 C378.5,241.9 378.8,241.9 381,242.3 C383.2,242.7 384.8,244.3 388,244.8 C391.2,245.3 394.7,244.9 400,245.2 C405.3,245.5 413.4,245.7 420,246.5 C426.6,247.3 434,248.5 439.6,249.8 C445.2,251.1 450.6,253.4 453.9,254.3 C457.2,255.2 457.5,254.9 459.5,255.2 C461.5,255.5 462.3,256 466,256.2 C469.7,256.4 479.2,256.3 481.9,256.3" fill="none" stroke="#74887a" stroke-width="0.9"/>
<path d="M306.8,266.6 C309.4,266.4 316.9,266.5 322.4,265.3 C327.9,264.1 333.9,261.8 339.7,259.7 C345.5,257.6 351.3,255 357.1,252.8 C362.9,250.6 369.5,247.8 374.5,246.6 C379.5,245.3 382.8,245.5 387,245.3 C391.2,245.1 394.5,245 400,245.2 C405.5,245.4 413.4,245.7 420,246.5 C426.6,247.3 434,248.5 439.6,249.8 C445.2,251.1 450.2,252.8 453.9,254.3 C457.6,255.8 459.8,257.6 461.7,258.9 C463.6,260.2 462.2,261.6 465.6,262.2 C469,262.8 479.2,262.2 481.9,262.2" fill="none" stroke="#74887a" stroke-width="1.1"/>
<line x1="465.6" y1="263.6" x2="481.9" y2="263.6" stroke="#74887a" stroke-width="0.9"/>
<path d="M306.8,319.6 C313.5,319.6 339.6,319.7 347,319.6 C354.4,319.5 350,319.4 351,318.8 C352,318.2 352.7,317.2 353,316 C353.3,314.8 353.2,312.9 352.8,311.5 C352.4,310.1 350,308.8 350.5,307.8 C351,306.8 353.3,306.3 356,305.3 C358.7,304.3 362.5,303.1 366.5,301.8 C370.5,300.5 375.7,298.6 380,297.6 C384.3,296.6 388,296.2 392.1,295.8 C396.2,295.4 399.7,294.8 404.8,295.3 C409.9,295.9 418,297.9 422.7,299.1 C427.4,300.4 430.3,301.6 433,302.8 C435.7,304 437.3,305 439,306.2 C440.7,307.4 440.7,308.6 443.1,310 C445.5,311.4 446.8,313.1 453.3,314.5 C459.8,315.9 477.1,317.8 481.9,318.5 L481.9,327.7 L306.8,327.7 Z" fill="#f98a6e" stroke="none" stroke-width="1"/>
<path d="M306.8,319.6 C313.5,319.6 339.6,319.7 347,319.6 C354.4,319.5 350,319.4 351,318.8 C352,318.2 352.7,317.2 353,316 C353.3,314.8 353.2,312.9 352.8,311.5 C352.4,310.1 350,308.8 350.5,307.8 C351,306.8 353.3,306.3 356,305.3 C358.7,304.3 362.5,303.1 366.5,301.8 C370.5,300.5 375.7,298.6 380,297.6 C384.3,296.6 388,296.2 392.1,295.8 C396.2,295.4 399.7,294.8 404.8,295.3 C409.9,295.9 418,297.9 422.7,299.1 C427.4,300.4 430.3,301.6 433,302.8 C435.7,304 437.3,305 439,306.2 C440.7,307.4 440.7,308.6 443.1,310 C445.5,311.4 446.8,313.1 453.3,314.5 C459.8,315.9 477.1,317.8 481.9,318.5" fill="none" stroke="#74887a" stroke-width="1.1"/>
<path d="M306.8,268.1 C309.2,268.1 316,268.7 321,268.1 C326,267.5 331.7,266.1 337,264.7 C342.3,263.3 347.7,261.4 353,259.5 C358.3,257.6 363.7,254.9 369,253.3 C374.3,251.8 380.3,250.9 385,250.2 C389.7,249.6 392.8,249.4 397,249.4 C401.2,249.4 405.3,249.5 410,250 C414.7,250.5 420,252 425,252.6 C430,253.2 435.5,252.4 440,253.5 C444.5,254.6 448.8,257.2 452,259 C455.2,260.8 457.8,263.2 459,264" fill="none" stroke="#74887a" stroke-width="1.1"/>
<path d="M306.8,276.8 C309.2,276.8 316,277.4 321,276.8 C326,276.2 331.7,274.8 337,273.4 C342.3,272 347.7,270.1 353,268.2 C358.3,266.3 363.7,263.9 369,262 C374.3,260.1 380.3,257.6 385,256.6 C389.7,255.6 392.8,255.8 397,255.8 C401.2,255.8 405.3,255.9 410,256.4 C414.7,256.9 420,258.3 425,259 C430,259.7 435.5,259.2 440,260.5 C444.5,261.8 449.1,265.2 452,267 C454.9,268.8 456.6,270.3 457.5,271" fill="none" stroke="#74887a" stroke-width="1.1"/>
<path d="M306.8,281.6 C309.2,281.6 316,282.2 321,281.6 C326,281 331.7,279.6 337,278.2 C342.3,276.8 347.7,274.9 353,273 C358.3,271.1 363.7,268.5 369,266.8 C374.3,265.1 380.3,263.4 385,262.6 C389.7,261.8 392.8,261.8 397,261.8 C401.2,261.8 405.3,261.9 410,262.4 C414.7,262.9 420,264.2 425,265 C430,265.8 435.8,265.6 440,267 C444.2,268.4 447.4,271.8 450,273.5 C452.6,275.2 450.8,276.7 455.5,277.3 C460.2,277.9 474.2,277.3 478,277.3" fill="none" stroke="#74887a" stroke-width="1.1"/>
<path d="M306.8,286.4 C309.2,286.4 316,287 321,286.4 C326,285.8 331.7,284.4 337,283 C342.3,281.6 347.7,279.7 353,277.8 C358.3,275.9 363.7,273.2 369,271.6 C374.3,270 380.3,268.8 385,268.1 C389.7,267.4 392.8,267.3 397,267.3 C401.2,267.3 405.3,267.4 410,267.9 C414.7,268.4 420,269.6 425,270.5 C430,271.4 435.8,271.4 440,273 C444.2,274.6 447.5,278.2 450,279.8 C452.5,281.4 450.3,282 455,282.4 C459.7,282.8 474.2,282.4 478,282.4" fill="none" stroke="#74887a" stroke-width="1.1"/>
<path d="M306.8,290.4 C309.2,290.4 316,291 321,290.4 C326,289.8 331.7,288.4 337,287 C342.3,285.6 347.7,283.7 353,281.8 C358.3,279.9 363.7,276.8 369,275.6 C374.3,274.4 380.3,274.9 385,274.6 C389.7,274.3 392.8,273.8 397,273.8 C401.2,273.8 405.3,273.9 410,274.4 C414.7,274.9 420,276.1 425,277 C430,277.9 436,278.4 440,280 C444,281.6 446.8,285.1 449,286.5 C451.2,287.9 448.7,288.1 453.5,288.4 C458.3,288.7 473.9,288.4 478,288.4" fill="none" stroke="#74887a" stroke-width="1.1"/>
<path d="M306.8,295.2 C309.2,295.2 316,295.8 321,295.2 C326,294.6 331.7,293.2 337,291.8 C342.3,290.4 347.7,288.5 353,286.6 C358.3,284.7 363.7,281.5 369,280.4 C374.3,279.3 380.3,280.2 385,280 C389.7,279.8 392.8,279.2 397,279.2 C401.2,279.2 405.3,279.3 410,279.8 C414.7,280.3 420,281.4 425,282.4 C430,283.3 436.3,284 440,285.5 C443.7,287 445.1,290.2 447,291.5 C448.9,292.8 446.3,293.2 451.5,293.5 C456.7,293.8 473.6,293.5 478,293.5" fill="none" stroke="#74887a" stroke-width="1.1"/>
<path d="M319.8,257.5 C320.4,259.9 322.1,267.6 323.6,272 C325.1,276.4 326.8,279.8 328.7,283.6 C330.6,287.4 332.9,291.8 335,295 C337.1,298.2 338.7,299.6 341.5,302.7 C344.3,305.8 348.3,309.9 352,313.3 C355.7,316.7 361.8,321.2 363.8,322.8" fill="none" stroke="#c8442c" stroke-width="2"/>
<path d="M464.3,262.2 C463.6,264 461.7,268.6 459.8,273 C457.9,277.4 455.4,284.1 453.1,288.4 C450.8,292.7 448.1,295.9 446,299 C443.9,302.1 442.6,304.6 440.4,307.3 C438.2,310 435.5,312.6 433,315 C430.5,317.4 426.8,320.4 425.5,321.5" fill="none" stroke="#c8442c" stroke-width="2"/>
<line x1="343.6" y1="296.6" x2="336.4" y2="289.2" stroke="#4d4d4d" stroke-width="1.8"/>
<line x1="336.4" y1="289.2" x2="339.9" y2="290.2" stroke="#4d4d4d" stroke-width="1.8"/>
<line x1="444.4" y1="291.5" x2="451.6" y2="283" stroke="#4d4d4d" stroke-width="1.8"/>
<line x1="451.6" y1="283" x2="448.2" y2="284.2" stroke="#4d4d4d" stroke-width="1.8"/>
<line x1="394.6" y1="304.8" x2="406.1" y2="302.6" stroke="#4d4d4d" stroke-width="1.8"/>
<line x1="406.1" y1="302.6" x2="402.7" y2="301.4" stroke="#4d4d4d" stroke-width="1.8"/>
<rect x="306.8" y="217.5" width="175.1" height="110.2" fill="none" stroke="#8a8f8b" stroke-width="1"/>
<line x1="303.2" y1="221.5" x2="303.2" y2="310.3" stroke="#111" stroke-width="1.3"/>
<line x1="298.6" y1="232.2" x2="303.2" y2="232.2" stroke="#231f20" stroke-width="1.1"/>
<text x="296.8" y="236.4" style="text-anchor:end">4</text>
<line x1="298.6" y1="258.2" x2="303.2" y2="258.2" stroke="#231f20" stroke-width="1.1"/>
<text x="296.8" y="262.4" style="text-anchor:end">6</text>
<line x1="298.6" y1="284.2" x2="303.2" y2="284.2" stroke="#231f20" stroke-width="1.1"/>
<text x="296.8" y="288.4" style="text-anchor:end">8</text>
<line x1="298.6" y1="310.2" x2="303.2" y2="310.2" stroke="#231f20" stroke-width="1.1"/>
<text x="296.8" y="314.4" style="text-anchor:end">10</text>
<text x="280.4" y="266.4" style="text-anchor:middle" transform="rotate(-90 280.4 266.4)" dy="3.6">TWT (s)</text>
<line x1="487.9" y1="235.9" x2="487.9" y2="250.6" stroke="#231f20" stroke-width="1.2"/>
<path d="M487.9,232.2 L490.3,236.8 L485.5,236.8 Z" fill="#231f20"/>
<path d="M487.9,254.3 L485.5,249.7 L490.3,249.7 Z" fill="#231f20"/>
<path d="M487.9,254.4 L490.1,257.1 L485.7,257.1 Z" fill="#231f20"/>
<path d="M487.9,259.8 L485.7,257.1 L490.1,257.1 Z" fill="#231f20"/>
<line x1="487.9" y1="266.3" x2="487.9" y2="295.5" stroke="#231f20" stroke-width="1.2"/>
<path d="M487.9,262.6 L490.3,267.2 L485.5,267.2 Z" fill="#231f20"/>
<path d="M487.9,299.2 L485.5,294.6 L490.3,294.6 Z" fill="#231f20"/>
<text x="491.8" y="241.3">Postgrowth</text>
<text x="491.8" y="261.9">Growth</text>
<text x="491.8" y="286.9">Pregrowth</text>
<text x="374.7" y="321.3" style="fill:#ffffff;stroke:#ffffff">Salt</text>
<text x="436.2" y="322.6">5 km</text>
<line x1="422.7" y1="325.2" x2="474.2" y2="325.2" stroke="#231f20" stroke-width="1.3"/>
<text x="296.4" y="341.7">NW</text>
<text x="473.7" y="341.7">SE</text>
<text x="554.9" y="210.6" style="font-size:10.3px">3. Perdido foldbelt (2006)</text>
<path d="M582.6,221.8 L758.3,221.8 L758.3,257.4 L747.8,256.1 L732.2,253.3 L706.1,245.5 L689.3,239.9 L670.2,238.2 L660,236.7 L653,235.2 L648,233.5 L643.4,233.6 L625.5,238.4 L611.3,242.2 L606,244.5 L602,247.2 L599.1,250.6 L593.9,252.9 L582.6,254.2 Z" fill="#f6e3bf" stroke="none" stroke-width="1"/>
<path d="M582.6,254.2 L593.9,252.9 L598,251.2 L589.5,261.8 L582.6,261.8 Z" fill="#a8c9a3" stroke="none" stroke-width="1"/>
<path d="M744,255.8 L747.8,256.1 L758.3,257.4 L758.3,276 L752,268.5 L747,260 Z" fill="#a8c9a3" stroke="none" stroke-width="1"/>
<path d="M582.6,320.4 L615.7,320.4 L643.2,294.8 L656.9,292.4 L659.5,293.2 L662.1,295.2 L664.5,293 L666.5,291.7 L684.4,299.2 L700,305.3 L717.4,311.1 L727.6,328.6 L758.3,328.6 L758.3,329.1 L582.6,329.1 Z" fill="#f98a6e" stroke="none" stroke-width="1"/>
<path d="M582.6,320.4 L615.7,320.4 L643.2,294.8 L656.9,292.4 L659.5,293.2 L662.1,295.2 L664.5,293 L666.5,291.7 L684.4,299.2 L700,305.3 L717.4,311.1 L727.6,328.6 L758.3,328.6" fill="none" stroke="#74887a" stroke-width="0.8"/>
<rect x="582.6" y="222" width="175.7" height="2.3" fill="#f1cd3a" stroke="none" stroke-width="1"/>
<line x1="582.6" y1="224.7" x2="758.3" y2="224.7" stroke="#a8a27a" stroke-width="0.7"/>
<path d="M582.6,230.3 L626,229.6 L643.1,227.6 L662,230.3 L700,231.5 L758.3,232.6" fill="none" stroke="#74887a" stroke-width="0.9"/>
<path d="M582.6,237.2 L600,236.8 L620,232.6 L643.1,228.6 L662,232 L700,234.5 L758.3,237.8" fill="none" stroke="#74887a" stroke-width="0.9"/>
<path d="M582.6,243.1 L598,242.6 L620,236.2 L643.1,229.8 L665,234.5 L700,238.5 L758.3,243" fill="none" stroke="#74887a" stroke-width="0.9"/>
<line x1="603.4" y1="239.6" x2="604.6" y2="242.8" stroke="#6d7a6f" stroke-width="0.9"/>
<line x1="610.4" y1="237.6" x2="611.6" y2="240.8" stroke="#6d7a6f" stroke-width="0.9"/>
<line x1="617.4" y1="235.3" x2="618.6" y2="238.5" stroke="#6d7a6f" stroke-width="0.9"/>
<line x1="624.4" y1="232.5" x2="625.6" y2="235.7" stroke="#6d7a6f" stroke-width="0.9"/>
<line x1="631.4" y1="229.8" x2="632.6" y2="233" stroke="#6d7a6f" stroke-width="0.9"/>
<line x1="638.4" y1="227.4" x2="639.6" y2="230.6" stroke="#6d7a6f" stroke-width="0.9"/>
<line x1="642.5" y1="226" x2="643.7" y2="229.2" stroke="#6d7a6f" stroke-width="0.9"/>
<path d="M582.6,261.8 L589.5,261.8 L617.3,247.9 L645.2,239.6 L660,240 L690,246 L735,262 L748,276 L752,277.8 L758.3,277.8" fill="none" stroke="#74887a" stroke-width="1.1"/>
<path d="M582.6,270.2 L593.6,270.2 L621.3,256.4 L646.5,245.6 L651,245 L683,246.4 L700,250.8 L733,266.5 L745,286.5 L750,288.7 L758.3,288.7" fill="none" stroke="#74887a" stroke-width="1.1"/>
<path d="M582.6,279.8 L598.3,279.8 L626,265.8 L649,252.2 L655,251 L686.7,252.8 L700,257.2 L730,272.5 L742,291.5 L747,294.1 L758.3,294.1" fill="none" stroke="#74887a" stroke-width="1.1"/>
<path d="M582.6,284.4 L600.5,284.4 L629,270.2 L651,258.5 L657,257.6 L688,259.5 L700,263.2 L728,277.5 L739,297.5 L744,300.3 L758.3,300.3" fill="none" stroke="#74887a" stroke-width="1.1"/>
<path d="M582.6,300.3 L608.8,300.3 L631.9,278.8 L652,269.7 L655,268.5 L671,268.5 L676,271.1 L731,297 L744,309.3 L758.3,309.3" fill="none" stroke="#74887a" stroke-width="1.1"/>
<path d="M582.6,309 L612.7,309 L636,287.4 L652,278.4 L655,277.2 L671,277.2 L676,279.8 L724,302.4 L737,315.9 L758.3,315.9" fill="none" stroke="#74887a" stroke-width="1.1"/>
<path d="M582.6,311.2 L613.7,311.2 L637,289.5 L652,281.7 L655,280.5 L671,280.5 L676,283.1 L721,304.2 L733,320.2 L758.3,320.2" fill="none" stroke="#74887a" stroke-width="1.1"/>
<path d="M582.6,313.6 L614.8,313.6 L638.1,291.9 L652,285.4 L655,284.2 L671,284.2 L676,286.8 L719,307 L731,323.5 L758.3,323.5" fill="none" stroke="#74887a" stroke-width="1.1"/>
<path d="M582.6,315.5 L615.6,315.5 L639,293.8 L652,288.4 L655,287.2 L671,287.2 L676,289.8 L717.5,309.3 L729,326.7 L758.3,326.7" fill="none" stroke="#74887a" stroke-width="1.1"/>
<path d="M582.6,318 L616.8,318 L640.2,296.2 L652,291 L655,289.8 L671,289.8 L676,292.4 L716,311.2 L727.6,328.6 L758.3,328.6" fill="none" stroke="#74887a" stroke-width="1.1"/>
<path d="M582.6,248.2 C585.1,248.2 594.2,248.2 597.4,248 C600.6,247.8 600.6,247.8 602,247.2 C603.4,246.6 604.5,245.3 606,244.5 C607.5,243.7 608,243.2 611.3,242.2 C614.5,241.2 620.1,239.8 625.5,238.4 C630.9,237 639.6,234.4 643.4,233.6 C647.1,232.8 646.4,233.2 648,233.5 C649.6,233.8 652.2,234.9 653,235.2" fill="none" stroke="#e4232b" stroke-width="2.5"/>
<path d="M648,233.5 C648.8,233.8 651,234.7 653,235.2 C655,235.7 657.1,236.2 660,236.7 C662.9,237.2 665.3,237.7 670.2,238.2 C675.1,238.7 683.3,238.7 689.3,239.9 C695.3,241.1 699,243.3 706.1,245.5 C713.2,247.7 725.2,251.5 732.2,253.3 C739.2,255.1 743.4,255.4 747.8,256.1 C752.1,256.8 756.5,257.2 758.3,257.4" fill="none" stroke="#e4232b" stroke-width="2"/>
<path d="M582.6,254.2 C584.5,254 591.1,253.5 593.9,252.9 C596.6,252.3 597.6,251.7 599.1,250.6 C600.6,249.5 602.4,247.3 603,246.6" fill="none" stroke="#e4232b" stroke-width="1"/>
<path d="M693,241.8 C697.5,242.2 709.1,243.4 720,244.5 C730.9,245.6 751.9,247.7 758.3,248.3" fill="none" stroke="#d9462f" stroke-width="0.9"/>
<path d="M651.7,235.2 C652.7,236.3 655,239.6 657.4,241.6 C659.8,243.6 663.6,245.6 666.3,247.3 C668.9,249 672.1,251.1 673.3,251.8" fill="none" stroke="#cf5a30" stroke-width="0.9"/>
<path d="M663.8,237.8 L670.8,244.1" fill="none" stroke="#cf5a30" stroke-width="0.9"/>
<path d="M675.3,239 C675.8,239.7 676.7,241.8 678.4,242.9 C680.1,244 684.3,245 685.5,245.4" fill="none" stroke="#cf5a30" stroke-width="0.9"/>
<path d="M675.9,242.9 L667.6,248.6" fill="none" stroke="#cf5a30" stroke-width="0.9"/>
<path d="M654.2,248 L660.6,252.4" fill="none" stroke="#cf5a30" stroke-width="0.9"/>
<line x1="586.1" y1="254.8" x2="612.4" y2="310.2" stroke="#5f6d62" stroke-width="1" stroke-dasharray="3.4,2.4"/>
<line x1="615.7" y1="244.4" x2="638.3" y2="292.2" stroke="#5f6d62" stroke-width="1" stroke-dasharray="3.4,2.4"/>
<line x1="645.3" y1="240" x2="655.1" y2="279" stroke="#5f6d62" stroke-width="1" stroke-dasharray="3.4,2.4"/>
<line x1="686.3" y1="250" x2="673.3" y2="277.5" stroke="#5f6d62" stroke-width="1" stroke-dasharray="3.4,2.4"/>
<line x1="689.5" y1="252" x2="676.2" y2="277" stroke="#5f6d62" stroke-width="1" stroke-dasharray="3.4,2.4"/>
<line x1="748" y1="261" x2="727" y2="300.4" stroke="#5f6d62" stroke-width="1" stroke-dasharray="3.4,2.4"/>
<line x1="755.3" y1="275.8" x2="735.6" y2="316.4" stroke="#5f6d62" stroke-width="1" stroke-dasharray="3.4,2.4"/>
<line x1="694.4" y1="244" x2="688" y2="262" stroke="#5f6d62" stroke-width="1" stroke-dasharray="3.4,2.4"/>
<rect x="582.6" y="217.7" width="175.7" height="111.4" fill="none" stroke="#8a8f8b" stroke-width="1"/>
<line x1="578.2" y1="223.9" x2="578.2" y2="315.1" stroke="#111" stroke-width="1.3"/>
<line x1="574" y1="223.9" x2="578.2" y2="223.9" stroke="#231f20" stroke-width="1.1"/>
<text x="574.4" y="228.1" style="text-anchor:end">10</text>
<line x1="574" y1="246.7" x2="578.2" y2="246.7" stroke="#231f20" stroke-width="1.1"/>
<text x="574.4" y="250.9" style="text-anchor:end">15</text>
<line x1="574" y1="269.5" x2="578.2" y2="269.5" stroke="#231f20" stroke-width="1.1"/>
<text x="574.4" y="273.7" style="text-anchor:end">20</text>
<line x1="574" y1="292.3" x2="578.2" y2="292.3" stroke="#231f20" stroke-width="1.1"/>
<text x="574.4" y="296.5" style="text-anchor:end">25</text>
<line x1="574" y1="315.1" x2="578.2" y2="315.1" stroke="#231f20" stroke-width="1.1"/>
<text x="574.4" y="319.3" style="text-anchor:end">30</text>
<text x="556.7" y="271.3" style="text-anchor:middle" transform="rotate(-90 556.7 271.3)" dy="3.6">Thousand feet</text>
<text x="583.5" y="228.1" style="font-size:11px">C</text>
<path d="M764.3,222.2 L766.5,224.8 L762.1,224.8 Z" fill="#231f20"/>
<path d="M764.3,227.4 L762.1,224.8 L766.5,224.8 Z" fill="#231f20"/>
<line x1="764.3" y1="233.5" x2="764.3" y2="270.9" stroke="#231f20" stroke-width="1.2"/>
<path d="M764.3,229.8 L766.7,234.4 L761.9,234.4 Z" fill="#231f20"/>
<path d="M764.3,274.6 L761.9,270 L766.7,270 Z" fill="#231f20"/>
<line x1="764.3" y1="280.9" x2="764.3" y2="324.1" stroke="#231f20" stroke-width="1.2"/>
<path d="M764.3,277.2 L766.7,281.8 L761.9,281.8 Z" fill="#231f20"/>
<path d="M764.3,327.8 L761.9,323.2 L766.7,323.2 Z" fill="#231f20"/>
<text x="770.6" y="222.7">Postgrowth</text>
<text x="770.6" y="255.8">Growth</text>
<text x="770.7" y="300.6">Pregrowth</text>
<text x="641.4" y="311.8" style="fill:#ffffff;stroke:#ffffff">Salt</text>
<text x="674.1" y="321.4">5 km</text>
<line x1="658" y1="324" x2="717.1" y2="324" stroke="#231f20" stroke-width="1.3"/>
<text x="573.7" y="343.4">NW</text>
<text x="750.5" y="343.4">SE</text>
</svg>
</body></html>
